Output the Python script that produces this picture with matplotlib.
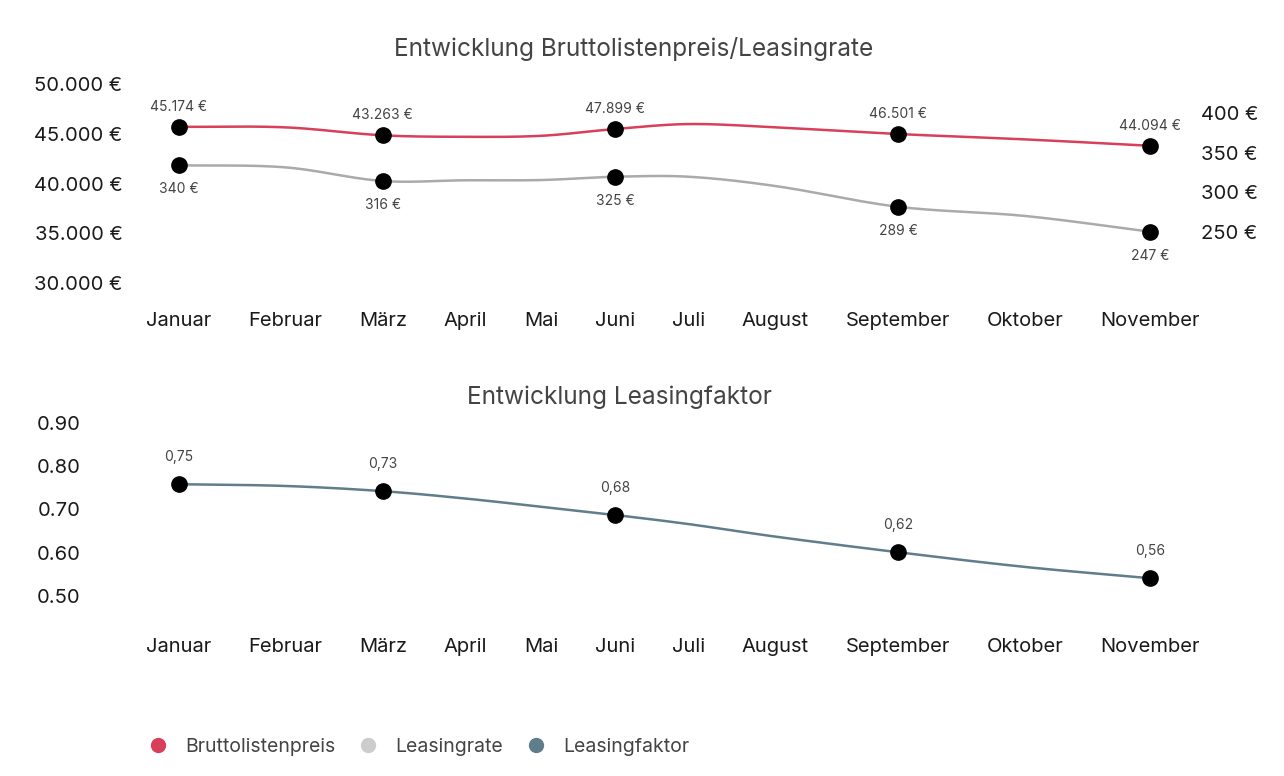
import matplotlib
matplotlib.use("Agg")
import matplotlib.pyplot as plt
from matplotlib.lines import Line2D
import numpy as np

plt.rcParams['font.family'] = ['Inter', 'DejaVu Sans']

months = ["Januar", "Februar", "März", "April", "Mai", "Juni",
          "Juli", "August", "September", "Oktober", "November"]
# Werte je Monat, so wie die Linien im Bild verlaufen
bruttolistenpreis = [45700, 45650, 44850, 44700, 44800, 45480, 45980, 45650, 44980, 44440, 43800]
leasingrate = [334.1, 331.5, 314.2, 315.1, 315.4, 319.6, 319.6, 307.8, 281.6, 269.9, 250.0]
leasingfaktor = [0.758, 0.754, 0.742, 0.725, 0.706, 0.687, 0.666, 0.637, 0.601, 0.567, 0.541]
# Monate mit Punkt und Beschriftung
punkte = [0, 2, 5, 8, 10]
brutto_labels = ["45.174 €", "43.263 €", "47.899 €", "46.501 €", "44.094 €"]
rate_labels = ["340 €", "316 €", "325 €", "289 €", "247 €"]
faktor_labels = ["0,75", "0,73", "0,68", "0,62", "0,56"]

left_ticks = [30000, 35000, 40000, 45000, 50000]
right_ticks = [250, 300, 350, 400]
faktor_ticks = [0.5, 0.6, 0.7, 0.8, 0.9]

ROT = "#d8405a"
GRAU = "#aaaaaa"
GRAU_LEG = "#cccccc"
BLAU = "#607d8b"
TXT = "#444444"
TICK = "#1a1a1a"

FS_TICK = 14.5
FS_LBL = 10
FS_TITLE = 17.6
FS_LEG = 14

W, H = 1284, 776
fig = plt.figure(figsize=(W / 100, H / 100), dpi=100)


def rect(x0, y0, x1, y1):
    return [x0 / W, 1 - y1 / H, (x1 - x0) / W, (y1 - y0) / H]


# Monatslabels verteilt wie "space-between": Breiten messen
X0, X1 = 146, 1200
r = fig.canvas.get_renderer()
breiten = []
for m in months:
    t = fig.text(0, 0, m, fontsize=FS_TICK)
    breiten.append(t.get_window_extent(r).width)
    t.remove()
gap = (X1 - X0 - sum(breiten)) / (len(months) - 1)
xpos = []
x = X0
for b in breiten:
    xpos.append(x + b / 2)
    x += b + gap
xpos = np.array(xpos)


def glatt(xs, ys, n=40):
    # kubische Hermite-Kurve mit Catmull-Rom-Tangenten
    xs = np.asarray(xs, float)
    ys = np.asarray(ys, float)
    m = np.zeros_like(ys)
    m[1:-1] = (ys[2:] - ys[:-2]) / (xs[2:] - xs[:-2])
    m[0] = (ys[1] - ys[0]) / (xs[1] - xs[0])
    m[-1] = (ys[-1] - ys[-2]) / (xs[-1] - xs[-2])
    px, py = [], []
    for i in range(len(xs) - 1):
        h = xs[i + 1] - xs[i]
        t = np.linspace(0, 1, n, endpoint=False)
        h00 = 2 * t**3 - 3 * t**2 + 1
        h10 = t**3 - 2 * t**2 + t
        h01 = -2 * t**3 + 3 * t**2
        h11 = t**3 - t**2
        px.extend(xs[i] + t * h)
        py.extend(h00 * ys[i] + h10 * h * m[i] + h01 * ys[i + 1] + h11 * h * m[i + 1])
    px.append(xs[-1])
    py.append(ys[-1])
    return np.array(px), np.array(py)


def clean(ax):
    for s in ax.spines.values():
        s.set_visible(False)
    ax.tick_params(length=0)


# ---- oben: Bruttolistenpreis / Leasingrate
ax1 = fig.add_axes(rect(X0, 70, X1, 295))
ax1.set_xlim(X0, X1)
ax1.set_ylim(28826, 51404)
ax2 = ax1.twinx()
ax2.set_ylim(169.9, 454.7)

sx, sy = glatt(xpos, bruttolistenpreis)
ax1.plot(sx, sy, color=ROT, lw=1.8, zorder=2)
sx, sy = glatt(xpos, leasingrate)
ax2.plot(sx, sy, color=GRAU, lw=1.8, zorder=2)

for k, i in enumerate(punkte):
    ax1.plot(xpos[i], bruttolistenpreis[i], 'o', color='black', ms=11, zorder=3)
    ax1.annotate(brutto_labels[k], (xpos[i], bruttolistenpreis[i]), xytext=(0, 20),
                 textcoords='offset pixels', ha='center', va='center', fontsize=FS_LBL, color=TXT)
    ax2.plot(xpos[i], leasingrate[i], 'o', color='black', ms=11, zorder=3)
    ax2.annotate(rate_labels[k], (xpos[i], leasingrate[i]), xytext=(0, -24),
                 textcoords='offset pixels', ha='center', va='center', fontsize=FS_LBL, color=TXT)

ax1.set_xticks(xpos, months)
ax1.set_yticks(left_ticks, [f"{v:,.0f} €".replace(",", ".") for v in left_ticks])
ax2.set_yticks(right_ticks, [f"{v} €" for v in right_ticks])
clean(ax1)
clean(ax2)
ax1.tick_params(axis='x', pad=12, labelsize=FS_TICK, labelcolor=TICK)
ax1.tick_params(axis='y', pad=17, labelsize=FS_TICK, labelcolor=TICK)
ax2.tick_params(axis='y', pad=1, labelsize=FS_TICK, labelcolor=TICK)

fig.text(634 / W, 1 - 49 / H, "Entwicklung Bruttolistenpreis/Leasingrate",
         ha='center', va='center', fontsize=FS_TITLE, color=TXT)

# ---- unten: Leasingfaktor
ax3 = fig.add_axes(rect(X0, 410, X1, 621))
ax3.set_xlim(X0, X1)
ax3.set_ylim(0.4423, 0.9293)
sx, sy = glatt(xpos, leasingfaktor)
ax3.plot(sx, sy, color=BLAU, lw=1.8, zorder=2)
for k, i in enumerate(punkte):
    ax3.plot(xpos[i], leasingfaktor[i], 'o', color='black', ms=11, zorder=3)
    ax3.annotate(faktor_labels[k], (xpos[i], leasingfaktor[i]), xytext=(0, 27),
                 textcoords='offset pixels', ha='center', va='center', fontsize=FS_LBL, color=TXT)
ax3.set_xticks(xpos, months)
ax3.set_yticks(faktor_ticks, [f"{v:.2f}" for v in faktor_ticks])
clean(ax3)
ax3.tick_params(axis='x', pad=12, labelsize=FS_TICK, labelcolor=TICK)
ax3.tick_params(axis='y', pad=47, labelsize=FS_TICK, labelcolor=TICK)

fig.text(619 / W, 1 - 397 / H, "Entwicklung Leasingfaktor",
         ha='center', va='center', fontsize=FS_TITLE, color=TXT)

# ---- Legende
handles = [Line2D([], [], ls='', marker='o', ms=10, color=c) for c in (ROT, GRAU_LEG, BLAU)]
fig.legend(handles, ["Bruttolistenpreis", "Leasingrate", "Leasingfaktor"],
           loc='center left', bbox_to_anchor=(148 / W, 1 - 747 / H), ncol=3, frameon=False,
           fontsize=FS_LEG, labelcolor=TXT, handlelength=1.0, handletextpad=0.9,
           columnspacing=1.2, borderpad=0, borderaxespad=0)

fig.savefig("out.png", dpi=100)
